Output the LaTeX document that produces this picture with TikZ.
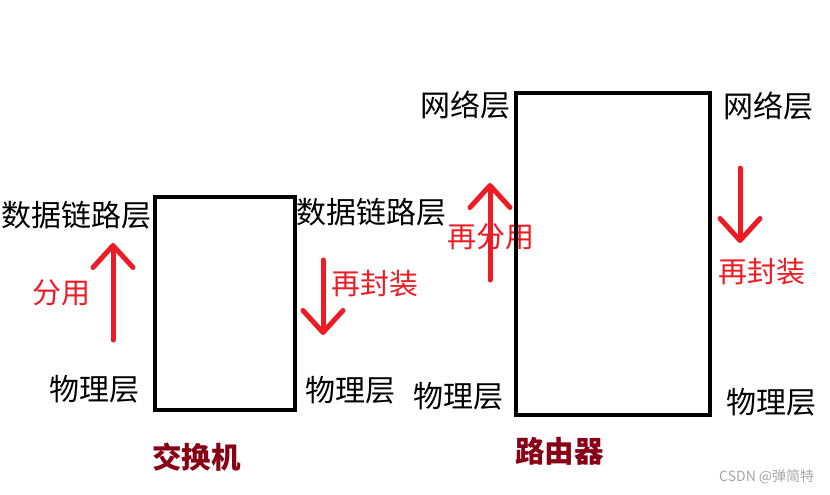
\documentclass[tikz,border=0pt]{standalone}
\usepackage{fontspec}
\setmainfont{Noto Sans CJK SC}
\usetikzlibrary{arrows.meta, positioning}
\definecolor{paintred}{HTML}{ED1C24}
\definecolor{darkred}{HTML}{880015}

\begin{document}
\begin{tikzpicture}[x=1pt, y=-1pt,
  layer/.style={inner sep=0pt, anchor=west, font=\fontsize{30}{31}\selectfont},
  note/.style={inner sep=0pt, anchor=west, text=paintred, font=\fontsize{29}{30}\selectfont},
  device/.style={inner sep=0pt, anchor=west, text=darkred, font=\fontsize{29.5}{30}\selectfont\bfseries},
  flow/.style={paintred, line width=5pt, line cap=round, -{Straight Barb[length=22pt, width=40pt, round]}}]
\useasboundingbox[fill=white] (0,0) rectangle (830,495);

% switch side
\node[layer] (dlSwitchIn) at (1,215) {数据链路层};
\node[layer] (dlSwitchOut) at (296,212) {数据链路层};
\node[layer] (phSwitchIn) at (49,389) {物理层};
\node[layer] (phSwitchOut) at (305,390) {物理层};
\node[note] (demux) at (32,293) {分用};
\node[note] (reencap) at (331,284) {再封装};
\draw[line width=4pt] (155,197) rectangle (295,410);
\node[device] (switch) at (152,457) {交换机};

\coordinate (upA) at (113,340);
\coordinate (upB) at (113,243);
\coordinate (downA) at (323,260);
\coordinate (downB) at (323,335);
\draw[flow] (upA) -- (upB);
\draw[flow] (downA) -- (downB);

% router side
\node[layer] (nwRouterIn) at (420,105) {网络层};
\node[layer] (nwRouterOut) at (723,106) {网络层};
\node[layer] (phRouterIn) at (413,396) {物理层};
\node[layer] (phRouterOut) at (726,402) {物理层};
\node[note] (redemux) at (447,237) {再分用};
\node[note] (reencapR) at (718,272) {再封装};
\draw[line width=4pt] (516,93) rectangle (710,415);
\node[device] (router) at (515,451) {路由器};

\coordinate (upC) at (490,280);
\coordinate (upD) at (490,183);
\coordinate (downC) at (740,168);
\coordinate (downD) at (740,243);
\draw[flow] (upC) -- (upD);
\draw[flow] (downC) -- (downD);

\node[inner sep=0pt, anchor=west, text=black!35, font=\fontsize{14}{15}\selectfont] (mark) at (719,477) {CSDN @弹简特};

\end{tikzpicture}
\end{document}
